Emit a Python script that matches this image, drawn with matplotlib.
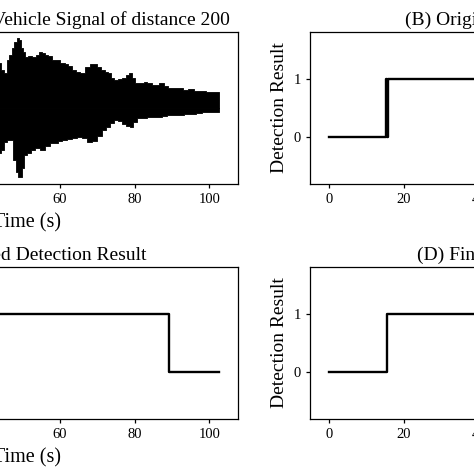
import matplotlib

matplotlib.use("Agg")

import matplotlib.pyplot as plt

plt.rcParams["font.family"] = ["Liberation Serif", "DejaVu Serif"]

# (A) signal envelope (upper / lower bounds), time in seconds
SIG_T_UP = [0, 10, 15, 20, 25, 30, 35, 40, 43.2,
            44.0, 44.8, 45.6, 46.1, 46.9, 47.5, 48.3, 48.8, 49.3, 49.9,
            50.4, 51.2, 52.0, 53.1, 54.1, 54.9, 55.7, 56.5, 57.3, 58.4,
            59.5, 60.8, 61.9, 62.7, 63.7, 64.8, 66.1, 67.5, 68.5, 69.6,
            70.4, 71.5, 72.5, 73.3, 73.9, 74.9, 76.0, 77.1, 78.1, 78.9,
            79.7, 80.5, 81.9, 82.9, 84.0, 85.1, 86.1, 87.2, 88.3, 89.3,
            90.9, 92.5, 93.6, 95.2, 96.8, 98.4, 100.0, 101.3, 102.5]
SIG_UP = [0.02, 0.03, 0.08, 0.15, 0.25, 0.35, 0.45, 0.55, 0.60,
          0.59, 0.50, 0.46, 0.63, 0.70, 0.79, 0.87, 0.92, 0.89, 0.79,
          0.74, 0.67, 0.68, 0.67, 0.70, 0.74, 0.72, 0.70, 0.68, 0.63,
          0.63, 0.59, 0.58, 0.55, 0.50, 0.47, 0.46, 0.54, 0.57, 0.58,
          0.54, 0.50, 0.47, 0.46, 0.39, 0.37, 0.38, 0.39, 0.43, 0.46,
          0.39, 0.33, 0.33, 0.34, 0.33, 0.30, 0.30, 0.33, 0.29, 0.26,
          0.26, 0.26, 0.24, 0.25, 0.22, 0.22, 0.21, 0.21, 0.21]
SIG_T_LO = [0, 10, 15, 20, 25, 30, 35, 40, 43.2,
            44.0, 44.8, 45.6, 46.4, 47.2, 48.0, 48.5, 49.1, 49.6, 50.1,
            50.9, 51.7, 52.8, 54.1, 55.5, 56.8, 57.9, 58.9, 60.0, 61.3,
            62.7, 64.0, 65.3, 66.7, 68.0, 69.3, 70.7, 71.7, 72.8, 73.9,
            74.9, 76.0, 77.1, 78.1, 79.2, 80.0, 81.3, 82.7, 84.0, 85.3,
            86.7, 88.0, 89.3, 90.9, 92.5, 94.1, 95.7, 97.3, 98.9, 100.5,
            102.5]
SIG_LO = [-0.02, -0.03, -0.08, -0.15, -0.25, -0.35, -0.45, -0.55, -0.60,
          -0.59, -0.55, -0.45, -0.42, -0.42, -0.68, -0.84, -0.91, -0.91, -0.79,
          -0.62, -0.59, -0.55, -0.53, -0.55, -0.50, -0.46, -0.46, -0.43, -0.42,
          -0.41, -0.39, -0.38, -0.39, -0.45, -0.43, -0.37, -0.29, -0.25, -0.20,
          -0.16, -0.17, -0.21, -0.24, -0.25, -0.18, -0.13, -0.13, -0.12, -0.12,
          -0.12, -0.11, -0.09, -0.09, -0.09, -0.08, -0.08, -0.07, -0.05, -0.05,
          -0.05]

# (B) original detection result (a few toggles around the onset)
B_T = [0, 15.1, 15.4, 15.7, 16.0, 102.5]
B_V = [0, 1, 0, 1, 1, 1]

# (C) reversed detection result
C_T = [0, 89.1, 102.5]
C_V = [1, 0, 0]

# (D) final detection result
D_T = [0, 15.5, 89.1, 102.5]
D_V = [0, 1, 0, 0]

TITLES = ["(A) Original Seismic Vehicle Signal of distance 200",
          "(B) Original Detection Result",
          "(C) Reversed Detection Result",
          "(D) Final Detection Result"]


def style(ax):
    ax.tick_params(direction="out", length=3, width=0.9, labelsize=10.5, pad=3.5)
    for sp in ax.spines.values():
        sp.set_linewidth(0.9)
    ax.set_xticks([0, 20, 40, 60, 80, 100])


def main():
    fig = plt.figure(figsize=(4.74, 4.74), dpi=100)
    w, h = 0.890, 0.321
    ax_a = fig.add_axes([-0.388, 0.612, w, h])
    ax_b = fig.add_axes([0.654, 0.612, w, h])
    ax_c = fig.add_axes([-0.388, 0.116, w, h])
    ax_d = fig.add_axes([0.654, 0.116, w, h])

    ax_a.fill_between(SIG_T_UP, 0, SIG_UP, step="mid", color="black", lw=0.6)
    ax_a.fill_between(SIG_T_LO, SIG_LO, 0, step="mid", color="black", lw=0.6)
    ax_a.set_ylim(-1.0, 1.0)
    ax_a.set_ylabel("Amplitude", fontsize=14)

    for ax, t, v in [(ax_b, B_T, B_V), (ax_c, C_T, C_V), (ax_d, D_T, D_V)]:
        ax.plot(t, v, drawstyle="steps-post", color="black", lw=1.7)
        ax.set_ylim(-0.8, 1.8)
        ax.set_yticks([0, 1])
        ax.set_ylabel("Detection Result", fontsize=14)

    for ax, title in zip([ax_a, ax_b, ax_c, ax_d], TITLES):
        style(ax)
        ax.set_xlim(-5.125, 107.625)
        ax.set_title(title, fontsize=14, pad=5)
        ax.set_xlabel("Time (s)", fontsize=14.5, labelpad=5)

    fig.savefig("out.png", dpi=100)


if __name__ == "__main__":
    main()
